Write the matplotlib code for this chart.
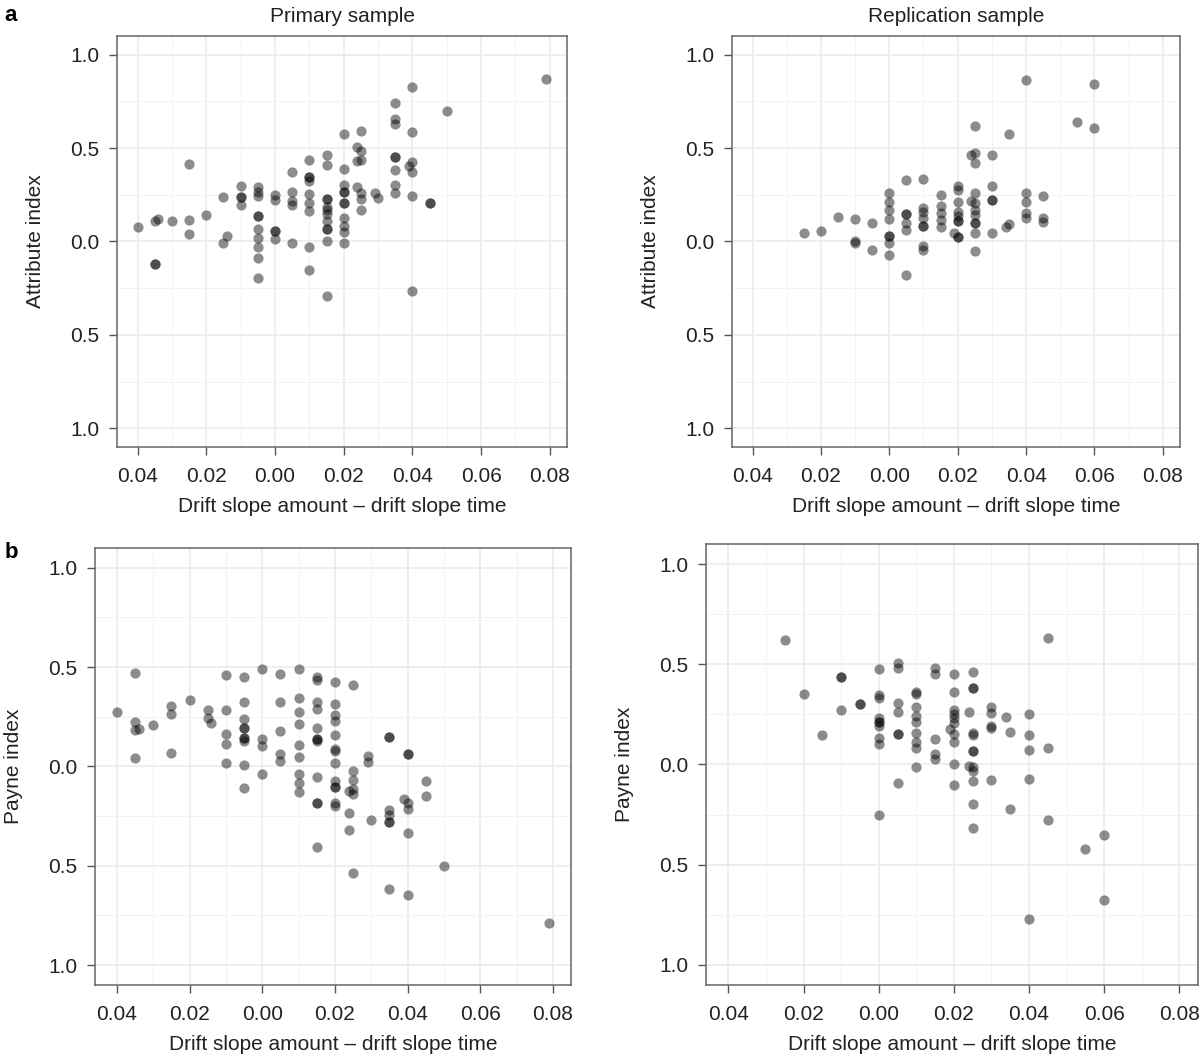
import matplotlib
matplotlib.use('Agg')
import matplotlib.pyplot as plt
from matplotlib.ticker import MultipleLocator

plt.rcParams['font.family'] = ['Liberation Sans', 'DejaVu Sans']

# --- data ---
# panel a, primary sample: drift slope difference vs attribute index
prim_attr_x = [-0.040, -0.035, -0.034, -0.030, -0.025, -0.025, -0.025, -0.035, -0.035,
               -0.020, -0.015, -0.015, -0.014, -0.010, -0.010, -0.010, -0.010,
               -0.005, -0.005, -0.005, -0.005, -0.005, -0.005, -0.005, -0.005, -0.005, -0.005,
               0.000, 0.000, 0.000, 0.000, 0.000,
               0.005, 0.005, 0.005, 0.005, 0.005,
               0.010, 0.010, 0.010, 0.010, 0.010, 0.010, 0.010, 0.010, 0.010,
               0.015, 0.015, 0.015, 0.015, 0.015, 0.015, 0.015, 0.015, 0.015, 0.015, 0.015, 0.015,
               0.020, 0.020, 0.020, 0.020, 0.020, 0.020, 0.020, 0.020, 0.020, 0.020, 0.020,
               0.024, 0.024, 0.024,
               0.025, 0.025, 0.025, 0.025, 0.025, 0.025,
               0.029, 0.030,
               0.035, 0.035, 0.035, 0.035, 0.035, 0.035, 0.035, 0.035,
               0.040, 0.040, 0.040, 0.040, 0.040, 0.040, 0.039,
               0.045, 0.045, 0.050, 0.079]
prim_attr_y = [0.077, 0.107, 0.121, 0.107, 0.416, 0.117, 0.041, -0.119, -0.119,
               0.141, 0.237, -0.009, 0.028, 0.295, 0.240, 0.240, 0.194,
               0.294, 0.267, 0.244, 0.139, 0.139, 0.068, 0.021, -0.028, -0.091, -0.196,
               0.249, 0.224, 0.055, 0.055, 0.012,
               0.372, 0.263, 0.215, 0.194, -0.009,
               0.436, 0.347, 0.347, 0.326, 0.254, 0.208, 0.164, -0.030, -0.155,
               0.463, 0.409, 0.228, 0.228, 0.187, 0.166, 0.146, 0.107, 0.068, 0.068, 0.005, -0.294,
               0.578, 0.390, 0.301, 0.265, 0.265, 0.208, 0.208, 0.125, 0.084, 0.052, -0.009,
               0.507, 0.432, 0.294,
               0.589, 0.484, 0.436, 0.258, 0.228, 0.167,
               0.258, 0.231,
               0.740, 0.653, 0.628, 0.454, 0.454, 0.381, 0.302, 0.262,
               0.829, 0.587, 0.423, 0.372, 0.246, -0.263, 0.404,
               0.206, 0.206, 0.701, 0.872]

# panel a, replication sample
repl_attr_x = [-0.025, -0.020, -0.015, -0.010, -0.010, -0.010, -0.005, -0.005,
               0.000, 0.000, 0.000, 0.000, 0.000, 0.000, 0.000, 0.000,
               0.005, 0.005, 0.005, 0.005, 0.005, 0.005,
               0.010, 0.010, 0.010, 0.010, 0.010, 0.010, 0.010, 0.010,
               0.015, 0.015, 0.015, 0.015, 0.015,
               0.020, 0.020, 0.020, 0.020, 0.020, 0.020, 0.020, 0.020, 0.020, 0.019,
               0.025, 0.025, 0.025, 0.025, 0.025, 0.025, 0.025, 0.025, 0.025, 0.025, 0.025,
               0.024, 0.024,
               0.030, 0.030, 0.030, 0.030, 0.030,
               0.034, 0.035, 0.035,
               0.040, 0.040, 0.040, 0.040, 0.040,
               0.045, 0.045, 0.045, 0.055, 0.060, 0.060]
repl_attr_y = [0.044, 0.055, 0.133, 0.119, 0.005, -0.009, 0.101, -0.044,
               0.258, 0.214, 0.169, 0.119, 0.027, 0.027, -0.009, -0.071,
               0.327, 0.149, 0.149, 0.098, 0.062, -0.178,
               0.335, 0.181, 0.160, 0.125, 0.084, 0.084, -0.023, -0.044,
               0.249, 0.192, 0.155, 0.116, 0.077,
               0.299, 0.276, 0.212, 0.160, 0.139, 0.107, 0.107, 0.023, 0.023, 0.048,
               0.616, 0.472, 0.418, 0.258, 0.205, 0.169, 0.142, 0.101, 0.101, 0.044, -0.053,
               0.461, 0.219,
               0.461, 0.295, 0.222, 0.222, 0.048,
               0.075, 0.093, 0.578,
               0.863, 0.262, 0.212, 0.151, 0.125,
               0.242, 0.125, 0.105, 0.639, 0.842, 0.605]

# panel b, primary sample: drift slope difference vs Payne index
prim_payne_x = [-0.040, -0.035, -0.035, -0.035, -0.035, -0.034, -0.030,
                -0.025, -0.025, -0.025, -0.020, -0.015, -0.015, -0.014,
                -0.010, -0.010, -0.010, -0.010, -0.010,
                -0.005, -0.005, -0.005, -0.005, -0.005, -0.005, -0.005, -0.005, -0.005, -0.005,
                0.000, 0.000, 0.000, 0.000,
                0.005, 0.005, 0.005, 0.005, 0.005,
                0.010, 0.010, 0.010, 0.010, 0.010, 0.010, 0.010, 0.010, 0.010,
                0.015, 0.015, 0.015, 0.015, 0.015, 0.015, 0.015, 0.015, 0.015, 0.015, 0.015, 0.015,
                0.020, 0.020, 0.020, 0.020, 0.020, 0.020, 0.020, 0.020, 0.020, 0.020, 0.020, 0.020, 0.020,
                0.025, 0.025, 0.025, 0.025, 0.025, 0.025,
                0.024, 0.024, 0.024,
                0.029, 0.029, 0.030,
                0.035, 0.035, 0.035, 0.035, 0.035, 0.035, 0.035,
                0.040, 0.040, 0.040, 0.040, 0.040, 0.040, 0.039,
                0.045, 0.045, 0.050, 0.079]
prim_payne_y = [0.272, 0.473, 0.225, 0.185, 0.044, 0.191, 0.208,
                0.305, 0.265, 0.067, 0.336, 0.282, 0.243, 0.221,
                0.460, 0.282, 0.161, 0.114, 0.015,
                0.450, 0.327, 0.237, 0.195, 0.195, 0.144, 0.144, 0.129, 0.008, -0.106,
                0.493, 0.139, 0.102, -0.037,
                0.463, 0.322, 0.180, 0.064, 0.025,
                0.490, 0.347, 0.275, 0.215, 0.106, 0.049, -0.039, -0.084, -0.131,
                0.451, 0.435, 0.324, 0.290, 0.196, 0.139, 0.139, 0.128, -0.052, -0.183, -0.183, -0.406,
                0.424, 0.314, 0.260, 0.230, 0.159, 0.089, 0.076, 0.015, -0.074, -0.102, -0.102, -0.183, -0.200,
                0.411, -0.025, -0.067, -0.116, -0.138, -0.535,
                -0.124, -0.235, -0.322,
                0.055, 0.023, -0.268,
                0.148, 0.148, -0.218, -0.242, -0.280, -0.280, -0.617,
                0.065, 0.065, -0.183, -0.216, -0.334, -0.648, -0.166,
                -0.074, -0.151, -0.502, -0.789]

# panel b, replication sample
repl_payne_x = [-0.025, -0.020, -0.015, -0.010, -0.010, -0.010, -0.005, -0.005,
                0.000, 0.000, 0.000, 0.000, 0.000, 0.000, 0.000, 0.000, 0.000, 0.000,
                0.005, 0.005, 0.005, 0.005, 0.005, 0.005, 0.005,
                0.010, 0.010, 0.010, 0.010, 0.010, 0.010, 0.010, 0.010, 0.010,
                0.015, 0.015, 0.015, 0.015, 0.015,
                0.020, 0.020, 0.020, 0.020, 0.020, 0.020, 0.020, 0.020, 0.020, 0.020, 0.019,
                0.025, 0.025, 0.025, 0.025, 0.025, 0.025, 0.025, 0.025, 0.025, 0.025, 0.025, 0.025,
                0.024, 0.024,
                0.030, 0.030, 0.030, 0.030, 0.030,
                0.034, 0.035, 0.035,
                0.040, 0.040, 0.040, 0.040, 0.040,
                0.045, 0.045, 0.045, 0.055, 0.060, 0.060]
repl_payne_y = [0.619, 0.349, 0.146, 0.438, 0.438, 0.271, 0.301, 0.301,
                0.474, 0.346, 0.334, 0.231, 0.211, 0.211, 0.191, 0.133, 0.100, -0.251,
                0.507, 0.481, 0.308, 0.261, 0.151, 0.151, -0.093,
                0.361, 0.353, 0.286, 0.240, 0.213, 0.158, 0.111, 0.080, -0.013,
                0.483, 0.453, 0.126, 0.050, 0.025,
                0.449, 0.363, 0.271, 0.253, 0.231, 0.205, 0.150, 0.111, 0.003, -0.101, 0.178,
                0.461, 0.381, 0.381, 0.158, 0.146, 0.065, 0.065, -0.015, -0.032, -0.082, -0.195, -0.316,
                -0.010, 0.261,
                0.286, 0.255, 0.191, 0.181, -0.078,
                0.236, 0.163, -0.221,
                0.250, 0.146, 0.073, -0.075, -0.770,
                0.631, 0.080, -0.276, -0.424, -0.353, -0.676]

x_ticks = [-0.04, -0.02, 0.00, 0.02, 0.04, 0.06, 0.08]
x_tick_labels = ['0.04', '0.02', '0.00', '0.02', '0.04', '0.06', '0.08']
y_ticks = [-1.0, -0.5, 0.0, 0.5, 1.0]
y_tick_labels = ['1.0', '0.5', '0.0', '0.5', '1.0']
x_label = 'Drift slope amount \u2013 drift slope time'


def style_panel(ax, ylabel, labelpad):
    ax.set_xlim(-0.046, 0.085)
    ax.set_ylim(-1.1, 1.1)
    ax.set_xticks(x_ticks)
    ax.set_xticklabels(x_tick_labels)
    ax.set_yticks(y_ticks)
    ax.set_yticklabels(y_tick_labels)
    ax.xaxis.set_minor_locator(MultipleLocator(0.01))
    ax.yaxis.set_minor_locator(MultipleLocator(0.25))
    ax.grid(which='major', color='#ebebeb', linewidth=1.2)
    ax.grid(which='minor', color='#f2f2f2', linewidth=0.7)
    ax.set_axisbelow(True)
    for s in ax.spines.values():
        s.set_color('#666666')
        s.set_linewidth(1.1)
    ax.tick_params(which='major', direction='out', length=5.5, width=1,
                   color='#555555', labelsize=15, labelcolor='#222222', pad=7)
    ax.tick_params(axis='x', which='major', pad=9)
    ax.tick_params(which='minor', length=0)
    ax.set_xlabel(x_label, fontsize=15, color='#222222', labelpad=8)
    ax.set_ylabel(ylabel, fontsize=15, color='#222222', labelpad=labelpad)


fig = plt.figure(figsize=(12, 10.55), dpi=100)

ax1 = fig.add_axes([0.0975, 0.5763, 0.375, 0.3896])
ax2 = fig.add_axes([0.61, 0.5763, 0.3733, 0.3896])
ax3 = fig.add_axes([0.0792, 0.0664, 0.3967, 0.4142])
ax4 = fig.add_axes([0.5883, 0.0664, 0.41, 0.418])

pt = dict(s=54, color='black', alpha=0.45, linewidths=0)
ax1.scatter(prim_attr_x, prim_attr_y, **pt)
ax2.scatter(repl_attr_x, repl_attr_y, **pt)
ax3.scatter(prim_payne_x, prim_payne_y, **pt)
ax4.scatter(repl_payne_x, repl_payne_y, **pt)

style_panel(ax1, 'Attribute index', 18)
style_panel(ax2, 'Attribute index', 18)
style_panel(ax3, 'Payne index', 18)
style_panel(ax4, 'Payne index', 18)

ax1.set_title('Primary sample', fontsize=15, color='#222222', pad=10)
ax2.set_title('Replication sample', fontsize=15, color='#222222', pad=10)

fig.text(0.004, 0.985, 'a', fontsize=16, fontweight='bold', va='center')
fig.text(0.004, 0.476, 'b', fontsize=16, fontweight='bold', va='center')

plt.savefig('out.png', dpi=100)
